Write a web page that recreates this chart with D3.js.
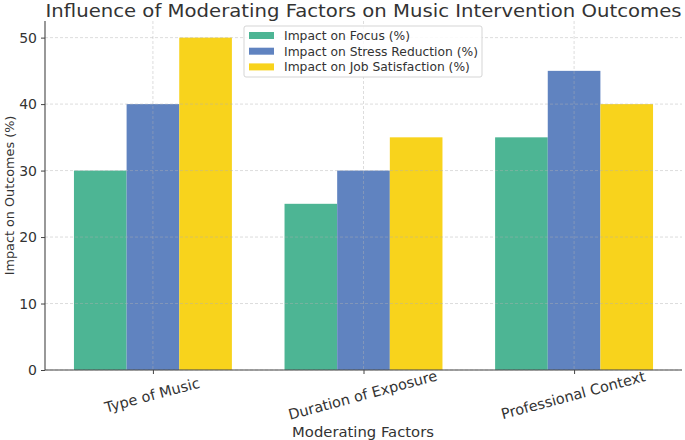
<!DOCTYPE html>
<html><head><meta charset="utf-8">
<script src="https://cdn.jsdelivr.net/npm/d3@7"></script>
<style>body{margin:0;background:#fff}svg{display:block}text{font-family:"DejaVu Sans",sans-serif;fill:#333}</style>
</head><body><svg id="c" width="685" height="440"></svg>
<script>
const categories = ["Type of Music", "Duration of Exposure", "Professional Context"];
const seriesNames = ["Impact on Focus (%)", "Impact on Stress Reduction (%)", "Impact on Job Satisfaction (%)"];
const focus = [30, 25, 35];
const stress = [40, 30, 45];
const satisfaction = [50, 35, 40];
const yTicks = [0, 10, 20, 30, 40, 50];
const colors = ["#4db594", "#6083c0", "#f8d31c"];

const series = [focus, stress, satisfaction];
const svg = d3.select("#c");
const L = 45, R = 682, T = 21, B = 370;
const x = d3.scaleLinear().domain([-0.5125, 2.5125]).range([L, R]);
const y = d3.scaleLinear().domain([0, 52.5]).range([B, T]);
const bw = 0.25;

series.forEach((vals, si) => {
  svg.append("g").selectAll("rect").data(vals).join("rect")
    .attr("x", (d, i) => x(i + (si - 1) * bw - bw / 2))
    .attr("width", x(bw) - x(0))
    .attr("y", d => y(d))
    .attr("height", d => y(0) - y(d))
    .attr("fill", colors[si]);
});

const grid = svg.append("g").attr("stroke", "#b0b0b0").attr("stroke-opacity", 0.55)
  .attr("stroke-dasharray", "3,2").attr("stroke-width", 0.8);
yTicks.forEach(t => grid.append("line").attr("x1", L).attr("x2", R).attr("y1", y(t)).attr("y2", y(t)));
categories.forEach((c, i) => grid.append("line").attr("x1", x(i)).attr("x2", x(i)).attr("y1", T).attr("y2", B));

const yAxis = d3.axisLeft(y).tickValues(yTicks).tickSize(4).tickPadding(4);
const gy = svg.append("g").attr("transform", `translate(${L},0)`).call(yAxis);
gy.select(".domain").attr("d", `M0,${T}V${B}`);
const xAxis = d3.axisBottom(x).tickValues([0, 1, 2]).tickFormat(i => categories[i]).tickSize(4).tickPadding(6);
const gx = svg.append("g").attr("transform", `translate(0,${B})`).call(xAxis);
gx.select(".domain").attr("d", `M${L},0H${R}`);
[gx, gy].forEach(g => {
  g.select(".domain").attr("stroke", "#444").attr("stroke-width", 1.1);
  g.selectAll(".tick line").attr("stroke", "#444");
  g.selectAll(".tick text").attr("font-size", 14).attr("fill", "#333").attr("font-family", "DejaVu Sans");
});
gx.selectAll(".tick text")
  .attr("font-size", 14.5)
  .attr("text-anchor", "middle")
  .attr("dy", null).attr("y", 0)
  .attr("transform", "translate(0,30) rotate(-15)");

svg.append("text").attr("transform", "translate(363.5,17) scale(1.093,1)").attr("text-anchor", "middle")
  .attr("font-size", 18).text("Influence of Moderating Factors on Music Intervention Outcomes");
svg.append("text").attr("x", 363).attr("y", 437).attr("text-anchor", "middle")
  .attr("font-size", 14.8).text("Moderating Factors");
svg.append("text").attr("transform", `translate(14,${(T + B) / 2}) rotate(-90)`).attr("text-anchor", "middle")
  .attr("font-size", 12.8).text("Impact on Outcomes (%)");

const lg = svg.append("g").attr("transform", "translate(244,26)");
lg.append("rect").attr("width", 238).attr("height", 51).attr("rx", 2).attr("fill", "#fff").attr("fill-opacity", 0.85)
  .attr("stroke", "#d5d5d5");
seriesNames.forEach((n, i) => {
  lg.append("rect").attr("x", 5).attr("y", 6 + i * 15.7).attr("width", 25).attr("height", 7).attr("fill", colors[i]);
  lg.append("text").attr("x", 40).attr("y", 14 + i * 15.7).attr("font-size", 12.3).text(n);
});
</script></body></html>
